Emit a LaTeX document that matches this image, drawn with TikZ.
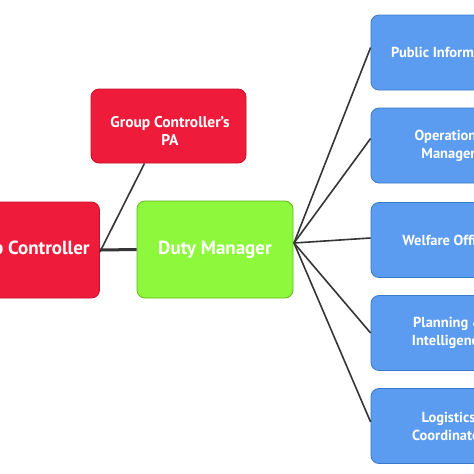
\documentclass[tikz,border=0pt]{standalone}
\usepackage{fontspec}
\setmainfont{PT Sans}
\begin{document}
\begin{tikzpicture}[x=1pt,y=-1pt,
  box/.style={draw, line width=0.8pt, rounded corners=8pt, text=white, font=\bfseries, align=center, inner sep=0pt},
  redbox/.style={box, fill=boxred, draw=boxredd},
  greenbox/.style={box, fill=boxgreen, draw=boxgreend},
  bluebox/.style={box, fill=boxblue, draw=boxblued, minimum width=155pt, minimum height=75pt, font=\bfseries\fontsize{14.5}{18}\selectfont},
  link/.style={draw=linkc, line width=1.6pt}
]
\definecolor{boxred}{HTML}{EE1C3A}
\definecolor{boxredd}{HTML}{C8102A}
\definecolor{boxgreen}{HTML}{8EF83C}
\definecolor{boxgreend}{HTML}{5FB820}
\definecolor{boxblue}{HTML}{5B9CF0}
\definecolor{boxblued}{HTML}{3A78C8}
\definecolor{linkc}{HTML}{353535}
\useasboundingbox (0,0) rectangle (474,474);
\clip (0,0) rectangle (474,474);
\fill[white] (0,0) rectangle (474,474);

\node[redbox, minimum width=155pt, minimum height=74pt] (pa) at (168.5,126) {};
\node[text=white, font=\bfseries\fontsize{15.5}{18}\selectfont, align=center, inner sep=0pt] (patext) at (170,131) {Group Controller's\\PA};
\node[redbox, minimum width=155pt, minimum height=96pt, font=\bfseries\fontsize{19}{22}\selectfont] (gc) at (22,250) {Group Controller};
\node[greenbox, minimum width=156pt, minimum height=97pt, font=\bfseries\fontsize{19}{22}\selectfont] (dm) at (215,249.5) {Duty Manager};

\node[bluebox] (b1) at (448.5,52.5) {Public Information};
\node[bluebox] (b2) at (448.5,145.5) {Operations\\Manager};
\node[bluebox] (b3) at (448.5,240) {Welfare Officer};
\node[bluebox] (b4) at (448.5,333) {Planning \&\\Intelligence};
\node[bluebox] (b5) at (448.5,426) {Logistics\\Coordinator};

\coordinate (fan) at (294,243);
\draw[link, line width=3pt] (gc.east) -- (dm.west);
\draw[link] ([yshift=-2pt]gc.east) -- ([xshift=-24pt]pa.south);
\draw[link] (fan) -- ([yshift=5pt]b1.west);
\draw[link] (fan) -- ([yshift=7pt]b2.west);
\draw[link] (fan) -- ([yshift=2pt]b3.west);
\draw[link] (fan) -- (b4.west);
\draw[link] (fan) -- ([yshift=4pt]b5.west);
\end{tikzpicture}
\end{document}
